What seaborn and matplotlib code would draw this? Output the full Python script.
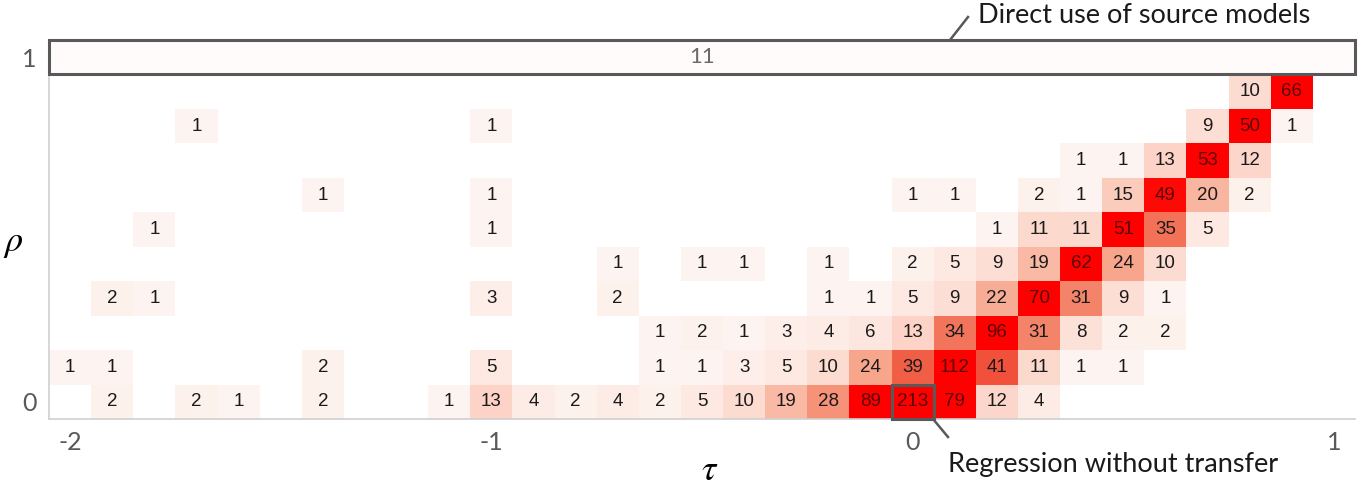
import numpy as np
import pandas as pd
import matplotlib
matplotlib.use("Agg")
import matplotlib.pyplot as plt
from matplotlib.colors import LinearSegmentedColormap
from matplotlib.patches import Rectangle
from matplotlib.lines import Line2D
import seaborn as sns

# bins (tau along x, rho along y)
tau_bins = ["-2.0", "-1.9", "-1.8", "-1.7", "-1.6", "-1.5", "-1.4", "-1.3", "-1.2", "-1.1",
            "-1.0", "-0.9", "-0.8", "-0.7", "-0.6", "-0.5", "-0.4", "-0.3", "-0.2", "-0.1",
            "0.0", "0.1", "0.2", "0.3", "0.4", "0.5", "0.6", "0.7", "0.8", "0.9", "1.0"]
rho_bins = ["0.0", "0.1", "0.2", "0.3", "0.4", "0.5", "0.6", "0.7", "0.8", "0.9"]

# counts per rho row, one value per tau bin
rho_00 = [0, 2, 0, 2, 1, 0, 2, 0, 0, 1, 13, 4, 2, 4, 2, 5, 10, 19, 28, 89, 213, 79, 12, 4, 0, 0, 0, 0, 0, 0, 0]
rho_01 = [1, 1, 0, 0, 0, 0, 2, 0, 0, 0, 5, 0, 0, 0, 1, 1, 3, 5, 10, 24, 39, 112, 41, 11, 1, 1, 0, 0, 0, 0, 0]
rho_02 = [0, 0, 0, 0, 0, 0, 0, 0, 0, 0, 0, 0, 0, 0, 1, 2, 1, 3, 4, 6, 13, 34, 96, 31, 8, 2, 2, 0, 0, 0, 0]
rho_03 = [0, 2, 1, 0, 0, 0, 0, 0, 0, 0, 3, 0, 0, 2, 0, 0, 0, 0, 1, 1, 5, 9, 22, 70, 31, 9, 1, 0, 0, 0, 0]
rho_04 = [0, 0, 0, 0, 0, 0, 0, 0, 0, 0, 0, 0, 0, 1, 0, 1, 1, 0, 1, 0, 2, 5, 9, 19, 62, 24, 10, 0, 0, 0, 0]
rho_05 = [0, 0, 1, 0, 0, 0, 0, 0, 0, 0, 1, 0, 0, 0, 0, 0, 0, 0, 0, 0, 0, 0, 1, 11, 11, 51, 35, 5, 0, 0, 0]
rho_06 = [0, 0, 0, 0, 0, 0, 1, 0, 0, 0, 1, 0, 0, 0, 0, 0, 0, 0, 0, 0, 1, 1, 0, 2, 1, 15, 49, 20, 2, 0, 0]
rho_07 = [0, 0, 0, 0, 0, 0, 0, 0, 0, 0, 0, 0, 0, 0, 0, 0, 0, 0, 0, 0, 0, 0, 0, 0, 1, 1, 13, 53, 12, 0, 0]
rho_08 = [0, 0, 0, 1, 0, 0, 0, 0, 0, 0, 1, 0, 0, 0, 0, 0, 0, 0, 0, 0, 0, 0, 0, 0, 0, 0, 0, 9, 50, 1, 0]
rho_09 = [0, 0, 0, 0, 0, 0, 0, 0, 0, 0, 0, 0, 0, 0, 0, 0, 0, 0, 0, 0, 0, 0, 0, 0, 0, 0, 0, 0, 10, 66, 0]

# rho = 1 : a single bin covering all tau
direct_use_count = 11

x_ticks = ["-2.0", "-1.0", "0.0", "1.0"]
x_ticklabels = ["-2", "-1", "0", "1"]
y_ticklabels = ["1", "0"]

rows = [rho_00, rho_01, rho_02, rho_03, rho_04, rho_05, rho_06, rho_07, rho_08, rho_09]
df = pd.DataFrame(rows, index=rho_bins, columns=tau_bins)
# empty placeholder row for rho = 1, heatmap drawn top-down
df.loc["1.0"] = 0
df = df.iloc[::-1]

cmap = LinearSegmentedColormap.from_list(
    "white_red",
    [(0.0, "#fdf6f3"), (0.25, "#fcd5c8"), (0.5, "#f6a085"), (0.8, "#f05a40"), (1.0, "#ff0000")])

fig = plt.figure(figsize=(13.63, 4.91), dpi=100)
ax = fig.add_axes([49 / 1363, 1 - 419 / 491, (1355 - 49) / 1363, (419 - 40) / 491])

sns.heatmap(df, ax=ax, mask=(df == 0), cmap=cmap, vmin=0, vmax=50, cbar=False,
            annot=True, fmt="d", xticklabels=False, yticklabels=False,
            annot_kws=dict(fontsize=13.5, family="Liberation Sans", color="#1a1a1a"))

for t in ax.texts:
    if int(t.get_text()) >= 45:
        t.set_color("#5c0505")

cols = list(df.columns)
rws = list(df.index)
n_cols = len(cols)

# rho = 1 bar
ax.add_patch(Rectangle((0, 0), n_cols, 1, facecolor="#fefbfa", edgecolor="#595959",
                       lw=2.2, zorder=4, clip_on=False))
ax.text(n_cols / 2, 0.5, str(direct_use_count), ha="center", va="center",
        fontsize=16, color="#6a6a6a", family="Lato", zorder=5)

# highlight tau = 0, rho = 0
ax.add_patch(Rectangle((cols.index("0.0"), rws.index("0.0")), 1, 1, fill=False,
                       edgecolor="#595959", lw=2.2, zorder=4, clip_on=False))

ax.set_xticks([cols.index(c) + 0.5 for c in x_ticks])
ax.set_xticklabels(x_ticklabels, rotation=0)
ax.set_yticks([rws.index("1.0") + 0.5, rws.index("0.0") + 0.5])
ax.set_yticklabels(y_ticklabels, rotation=0)
ax.tick_params(length=0, pad=9, labelsize=18, labelcolor="#595959")
for lab in ax.get_xticklabels() + ax.get_yticklabels():
    lab.set_family("Lato")

for side in ["left", "bottom"]:
    ax.spines[side].set_visible(True)
    ax.spines[side].set_color("#d0d0d0")
    ax.spines[side].set_linewidth(1.2)
ax.spines["left"].set_bounds(len(rws), 1)

plt.rcParams["mathtext.fontset"] = "stix"
fig.text(710 / 1363, 1 - 470 / 491, r"$\tau$", fontsize=26, ha="center", va="center")
fig.text(13 / 1363, 1 - 243 / 491, r"$\rho$", fontsize=26, ha="center", va="center")

# callouts
def px(x, y):
    return x / 1363, 1 - y / 491

(x0, y0), (x1, y1) = px(968, 17), px(950, 40)
fig.add_artist(Line2D([x0, x1], [y0, y1], color="#595959", lw=1.8))
fig.text(*px(978, 23), "Direct use of source models", fontsize=19.5, family="Lato",
         color="#1a1a1a", ha="left", va="baseline")

(x0, y0), (x1, y1) = px(933, 419), px(948, 437)
fig.add_artist(Line2D([x0, x1], [y0, y1], color="#595959", lw=1.8))
fig.text(*px(948, 472), "Regression without transfer", fontsize=19.5, family="Lato",
         color="#1a1a1a", ha="left", va="baseline")

fig.savefig("out.png", dpi=100, facecolor="white")
